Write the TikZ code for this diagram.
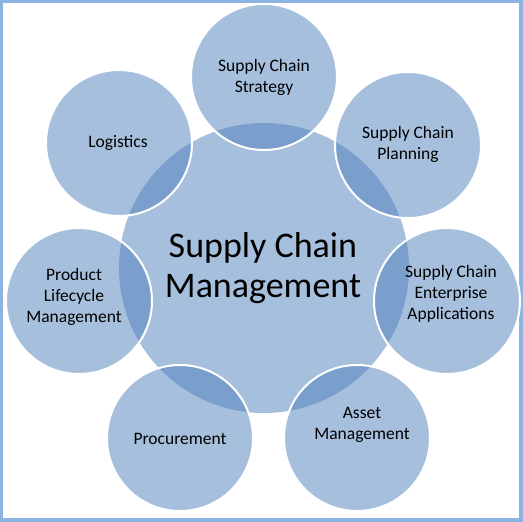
\documentclass[tikz,border=0pt]{standalone}
\usepackage{fontspec}
\setmainfont{Carlito}
\usepackage{tikz}
\usetikzlibrary{positioning}

\definecolor{scmblue}{HTML}{4F81BD}
\definecolor{framecol}{HTML}{8DB3E2}

\begin{document}
\begin{tikzpicture}[x=1pt,y=-1pt,
  hub/.style={circle,minimum size=290pt,inner sep=0pt,
              fill=scmblue,fill opacity=0.5},
  petal/.style={circle,minimum size=146pt,inner sep=0pt,
                fill=scmblue,fill opacity=0.5,draw=white,line width=2pt},
  petaltext/.style={align=center,inner sep=0pt,
                    font=\fontsize{17.5}{21}\selectfont}]
\useasboundingbox (0,0) rectangle (523,522);
% frame
\fill[framecol] (0,0) rectangle (523,522);
\fill[white] (3,3) rectangle (519,518);

% centre and the seven circles round it
\node[hub] (scm) at (264,268) {};
\foreach \n/\x/\y in {strat/264/77, plan/408/145, ent/447/301,
                      asset/357/438, proc/180/438, plm/79/301, logi/119/143}
  \node[petal] (\n) at (\x,\y) {};

% texts
\node[align=center,inner sep=0pt,font=\fontsize{36}{40}\selectfont]
  (scm-t) at (263,268) {Supply Chain\\Management};
\foreach \n/\x/\y/\t in {strat/264/77/{Supply Chain\\Strategy},
                         plan/408/144/{Supply Chain\\Planning},
                         ent/451/294/{Supply Chain\\Enterprise\\Applications},
                         asset/362/425/{Asset\\Management},
                         proc/180/439/{Procurement},
                         plm/74/297/{Product\\Lifecycle\\Management},
                         logi/118/143/{Logistics}}
  \node[petaltext] (\n-t) at (\x,\y) {\t};
\end{tikzpicture}
\end{document}
